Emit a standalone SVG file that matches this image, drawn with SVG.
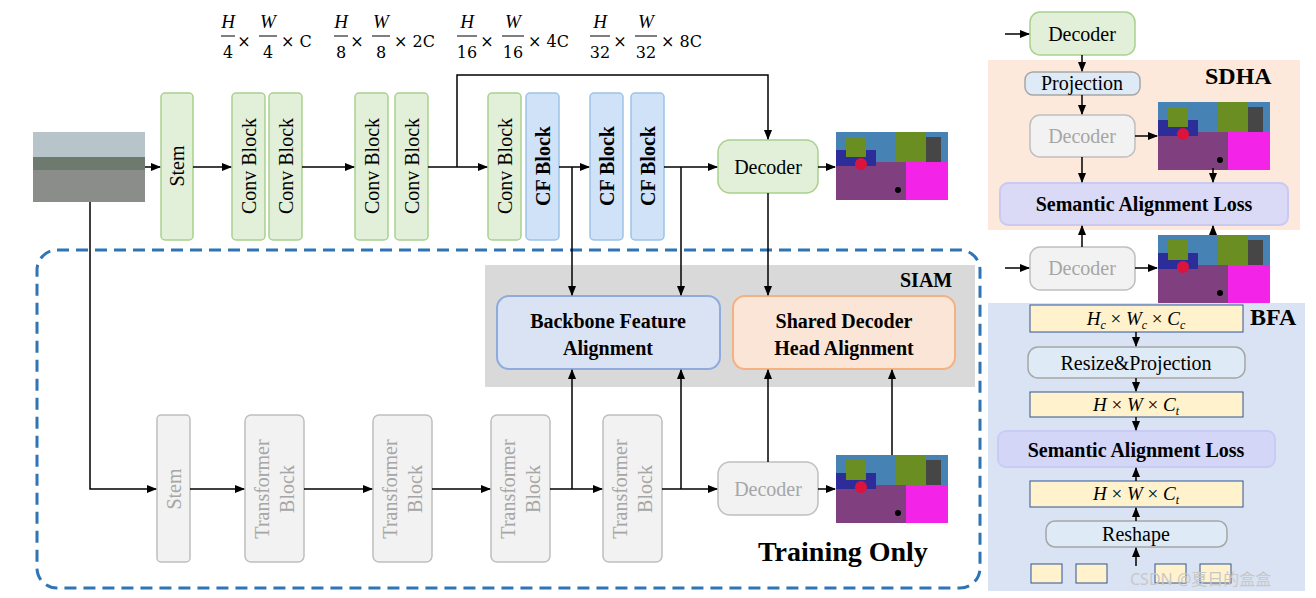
<svg xmlns="http://www.w3.org/2000/svg" width="1316" height="598" viewBox="0 0 1316 598">
<defs>
<marker id="ar" viewBox="0 0 10 10" refX="9" refY="5" markerWidth="7" markerHeight="7" orient="auto"><path d="M0,1 L10,5 L0,9 z" fill="#000"/></marker>
<style>
.g{fill:#e2f0d9;stroke:#a9d18e;stroke-width:1.5}
.b{fill:#cfe2f8;stroke:#9dc3e6;stroke-width:1.5}
.gr{fill:#f2f2f2;stroke:#bfbfbf;stroke-width:1.5}
.t{font-family:"Liberation Serif",serif;font-size:20px}
.tb{font-family:"Liberation Serif",serif;font-size:20px;font-weight:bold}
.tg{font-family:"Liberation Serif",serif;font-size:20px;fill:#a6a6a6}
.m{font-family:"DejaVu Serif",serif;font-size:16px}
.mi{font-family:"Liberation Serif",serif;font-size:19px;font-style:italic}
.c line,.c path{stroke:#000;stroke-width:1.5;fill:none;marker-end:url(#ar)}
.y{fill:#fff2cc;stroke:#2f5597;stroke-width:1}
.p{fill:#deebf7;stroke:#a6a6a6;stroke-width:1.5}
</style>
<g id="seg">
<rect width="112" height="68" fill="#4682b4"/>
<rect y="30" width="112" height="38" fill="#804080"/>
<rect x="70" y="30" width="42" height="38" fill="#f423e8"/>
<rect x="0" y="18" width="40" height="16" fill="#2d2d9a"/>
<rect x="10" y="5" width="20" height="20" fill="#6b8e23"/>
<rect x="60" y="0" width="30" height="30" fill="#6b8e23"/>
<rect x="90" y="5" width="15" height="25" fill="#464646"/>
<circle cx="25" cy="32" r="6" fill="#dc143c"/>
<circle cx="62" cy="58" r="3" fill="#000"/>
</g>
</defs>
<rect width="1316" height="598" fill="#fff"/>

<g id="dims">
<text class="mi" x="228" y="28" text-anchor="middle">H</text><line x1="221" y1="36" x2="235" y2="36" stroke="#000"/><text class="m" x="228" y="58" text-anchor="middle">4</text>
<text class="m" x="244" y="47" text-anchor="middle">×</text>
<text class="mi" x="268" y="28" text-anchor="middle">W</text><line x1="259" y1="36" x2="277" y2="36" stroke="#000"/><text class="m" x="268" y="58" text-anchor="middle">4</text>
<text class="m" x="281" y="47">× C</text>
<text class="mi" x="341" y="28" text-anchor="middle">H</text><line x1="334" y1="36" x2="348" y2="36" stroke="#000"/><text class="m" x="341" y="58" text-anchor="middle">8</text>
<text class="m" x="357" y="47" text-anchor="middle">×</text>
<text class="mi" x="381" y="28" text-anchor="middle">W</text><line x1="372" y1="36" x2="390" y2="36" stroke="#000"/><text class="m" x="381" y="58" text-anchor="middle">8</text>
<text class="m" x="394" y="47">× 2C</text>
<text class="mi" x="467" y="28" text-anchor="middle">H</text><line x1="457" y1="36" x2="477" y2="36" stroke="#000"/><text class="m" x="467" y="58" text-anchor="middle">16</text>
<text class="m" x="487" y="47" text-anchor="middle">×</text>
<text class="mi" x="513" y="28" text-anchor="middle">W</text><line x1="502" y1="36" x2="524" y2="36" stroke="#000"/><text class="m" x="513" y="58" text-anchor="middle">16</text>
<text class="m" x="528" y="47">× 4C</text>
<text class="mi" x="600" y="28" text-anchor="middle">H</text><line x1="590" y1="36" x2="610" y2="36" stroke="#000"/><text class="m" x="600" y="58" text-anchor="middle">32</text>
<text class="m" x="620" y="47" text-anchor="middle">×</text>
<text class="mi" x="646" y="28" text-anchor="middle">W</text><line x1="635" y1="36" x2="657" y2="36" stroke="#000"/><text class="m" x="646" y="58" text-anchor="middle">32</text>
<text class="m" x="661" y="47">× 8C</text>
</g>

<g id="siam-bg"><rect x="485" y="265" width="490" height="122" fill="#d9d9d9"/><text class="tb" x="900" y="287" font-size="26">SIAM</text></g>
<rect id="training" x="37" y="250" width="943" height="338" rx="20" fill="none" stroke="#2e75b6" stroke-width="3" stroke-dasharray="12,7"/>
<text x="758" y="561" font-family="Liberation Serif,serif" font-size="28" font-weight="bold">Training Only</text>

<g id="input"><rect x="33" y="132" width="112" height="70" fill="#6f7a6e"/><rect x="33" y="170" width="112" height="32" fill="#8a8d8a"/><rect x="33" y="132" width="112" height="25" fill="#b7c4c9"/></g>

<g id="nodes-top">
<g id="stem"><rect class="g" x="161" y="93" width="32" height="147" rx="4"/><text class="t" transform="translate(184,166) rotate(-90)" text-anchor="middle">Stem</text></g>
<g id="cb1"><rect class="g" x="232" y="93" width="33" height="147" rx="4"/><text class="t" transform="translate(256,166) rotate(-90)" text-anchor="middle">Conv Block</text></g>
<g id="cb2"><rect class="g" x="269" y="93" width="33" height="147" rx="4"/><text class="t" transform="translate(293,166) rotate(-90)" text-anchor="middle">Conv Block</text></g>
<g id="cb3"><rect class="g" x="355" y="93" width="33" height="147" rx="4"/><text class="t" transform="translate(379,166) rotate(-90)" text-anchor="middle">Conv Block</text></g>
<g id="cb4"><rect class="g" x="395" y="93" width="33" height="147" rx="4"/><text class="t" transform="translate(419,166) rotate(-90)" text-anchor="middle">Conv Block</text></g>
<g id="cb5"><rect class="g" x="488" y="93" width="33" height="147" rx="4"/><text class="t" transform="translate(512,166) rotate(-90)" text-anchor="middle">Conv Block</text></g>
<g id="cf1"><rect class="b" x="526" y="93" width="33" height="147" rx="4"/><text class="tb" transform="translate(550,166) rotate(-90)" text-anchor="middle">CF Block</text></g>
<g id="cf2"><rect class="b" x="590" y="93" width="33" height="147" rx="4"/><text class="tb" transform="translate(614,166) rotate(-90)" text-anchor="middle">CF Block</text></g>
<g id="cf3"><rect class="b" x="631" y="93" width="33" height="147" rx="4"/><text class="tb" transform="translate(655,166) rotate(-90)" text-anchor="middle">CF Block</text></g>
<g id="dec1"><rect class="g" x="718" y="140" width="100" height="53" rx="12"/><text class="t" x="768" y="174" text-anchor="middle">Decoder</text></g>
<use href="#seg" x="836" y="132"/>
</g>

<g id="align">
<g id="bfa-node"><rect x="497" y="296" width="223" height="73" rx="12" fill="#dae3f3" stroke="#8faadc" stroke-width="2"/><text class="tb" x="608" y="328" text-anchor="middle">Backbone Feature</text><text class="tb" x="608" y="355" text-anchor="middle">Alignment</text></g>
<g id="sdha-node"><rect x="733" y="296" width="222" height="73" rx="12" fill="#fbe5d6" stroke="#f4b183" stroke-width="2"/><text class="tb" x="844" y="328" text-anchor="middle">Shared Decoder</text><text class="tb" x="844" y="355" text-anchor="middle">Head Alignment</text></g>
</g>

<g id="nodes-bottom">
<g id="stem2"><rect class="gr" x="157" y="415" width="33" height="147" rx="4"/><text class="tg" transform="translate(181,489) rotate(-90)" text-anchor="middle">Stem</text></g>
<g id="tb1"><rect class="gr" x="245" y="415" width="59" height="147" rx="6"/><text class="tg" transform="translate(269,489) rotate(-90)" text-anchor="middle">Transformer</text><text class="tg" transform="translate(294,489) rotate(-90)" text-anchor="middle">Block</text></g>
<g id="tb2"><rect class="gr" x="373" y="415" width="59" height="147" rx="6"/><text class="tg" transform="translate(397,489) rotate(-90)" text-anchor="middle">Transformer</text><text class="tg" transform="translate(422,489) rotate(-90)" text-anchor="middle">Block</text></g>
<g id="tb3"><rect class="gr" x="491" y="415" width="59" height="147" rx="6"/><text class="tg" transform="translate(515,489) rotate(-90)" text-anchor="middle">Transformer</text><text class="tg" transform="translate(540,489) rotate(-90)" text-anchor="middle">Block</text></g>
<g id="tb4"><rect class="gr" x="603" y="415" width="59" height="147" rx="6"/><text class="tg" transform="translate(627,489) rotate(-90)" text-anchor="middle">Transformer</text><text class="tg" transform="translate(652,489) rotate(-90)" text-anchor="middle">Block</text></g>
<g id="dec2"><rect class="gr" x="718" y="462" width="100" height="53" rx="12"/><text class="tg" x="768" y="496" text-anchor="middle">Decoder</text></g>
<use href="#seg" x="836" y="455"/>
</g>

<g id="connectors" class="c">
<line x1="145" y1="167" x2="160" y2="167"/>
<line x1="193" y1="167" x2="231" y2="167"/>
<line x1="302" y1="167" x2="354" y2="167"/>
<line x1="428" y1="167" x2="487" y2="167"/>
<line x1="559" y1="167" x2="589" y2="167"/>
<line x1="664" y1="167" x2="717" y2="167"/>
<line x1="818" y1="167" x2="835" y2="167"/>
<path d="M457,167 V75 H768 V139"/>
<line x1="572" y1="167" x2="572" y2="295"/>
<line x1="681" y1="167" x2="681" y2="295"/>
<line x1="768" y1="193" x2="768" y2="295"/>
<path d="M90,202 V489 H156"/>
<line x1="190" y1="489" x2="244" y2="489"/>
<line x1="304" y1="489" x2="372" y2="489"/>
<line x1="432" y1="489" x2="490" y2="489"/>
<line x1="550" y1="489" x2="602" y2="489"/>
<line x1="662" y1="489" x2="717" y2="489"/>
<line x1="818" y1="489" x2="835" y2="489"/>
<line x1="572" y1="489" x2="572" y2="370"/>
<line x1="681" y1="489" x2="681" y2="370"/>
<line x1="768" y1="462" x2="768" y2="370"/>
<line x1="892" y1="455" x2="892" y2="370"/>
</g>

<g id="sdha-panel">
<rect x="988" y="60" width="312" height="170" fill="#fce9dc"/>
<text x="1205" y="84" font-family="Liberation Serif,serif" font-size="24" font-weight="bold">SDHA</text>
<g id="sd-dec0"><rect class="g" x="1030" y="12" width="105" height="43" rx="10"/><text class="t" x="1082" y="41" text-anchor="middle">Decoder</text></g>
<g id="sd-proj"><rect class="p" x="1025" y="72" width="115" height="23" rx="8"/><text class="t" x="1082" y="90" text-anchor="middle">Projection</text></g>
<g id="sd-dec1"><rect class="gr" x="1030" y="115" width="105" height="42" rx="10"/><text class="tg" x="1082" y="143" text-anchor="middle">Decoder</text></g>
<use href="#seg" x="1158" y="102"/>
<g id="sd-sal"><rect x="1000" y="183" width="288" height="42" rx="8" fill="#dadaf7" stroke="#c9c9f2" stroke-width="2"/><text class="tb" x="1144" y="211" text-anchor="middle">Semantic Alignment Loss</text></g>
<g id="sd-dec2"><rect class="gr" x="1030" y="247" width="105" height="43" rx="10"/><text class="tg" x="1082" y="275" text-anchor="middle">Decoder</text></g>
<use href="#seg" x="1158" y="235"/>
</g>

<g id="bfa-panel">
<rect x="988" y="303" width="317" height="288" fill="#dae3f3"/>
<text x="1250" y="325" font-family="Liberation Serif,serif" font-size="24" font-weight="bold">BFA</text>
<g id="bf-hc"><rect class="y" x="1030" y="305" width="213" height="27"/><text class="mi" x="1136" y="325" text-anchor="middle" font-size="18">H<tspan font-size="12" dy="4">c</tspan><tspan dy="-4" font-style="normal"> × </tspan>W<tspan font-size="12" dy="4">c</tspan><tspan dy="-4" font-style="normal"> × </tspan>C<tspan font-size="12" dy="4">c</tspan></text></g>
<g id="bf-rp"><rect class="p" x="1028" y="347" width="217" height="31" rx="10"/><text class="t" x="1136" y="370" text-anchor="middle" font-size="18">Resize&amp;Projection</text></g>
<g id="bf-h1"><rect class="y" x="1030" y="392" width="213" height="25"/><text class="mi" x="1136" y="411" text-anchor="middle" font-size="18">H<tspan font-style="normal"> × </tspan>W<tspan font-style="normal"> × </tspan>C<tspan font-size="12" dy="4">t</tspan></text></g>
<g id="bf-sal"><rect x="998" y="431" width="277" height="36" rx="8" fill="#d4d6f8" stroke="#c9cbf5" stroke-width="2"/><text class="tb" x="1136" y="457" text-anchor="middle">Semantic Alignment Loss</text></g>
<g id="bf-h2"><rect class="y" x="1030" y="481" width="213" height="26"/><text class="mi" x="1136" y="500" text-anchor="middle" font-size="18">H<tspan font-style="normal"> × </tspan>W<tspan font-style="normal"> × </tspan>C<tspan font-size="12" dy="4">t</tspan></text></g>
<g id="bf-rs"><rect class="p" x="1046" y="521" width="181" height="26" rx="9"/><text class="t" x="1136" y="541" text-anchor="middle" font-size="18">Reshape</text></g>
<rect class="y" x="1031" y="564" width="31" height="19"/><rect class="y" x="1076" y="564" width="31" height="19"/><rect class="y" x="1155" y="564" width="31" height="19"/><rect class="y" x="1200" y="564" width="31" height="19"/>
<text x="1130" y="585" font-family="Noto Sans,Noto Sans CJK SC,sans-serif" font-size="16" fill="#c8c8c8">CSDN @夏日的盒盒</text>
</g>

<g id="panel-connectors" class="c">
<line x1="1005" y1="34" x2="1029" y2="34"/>
<line x1="1082" y1="55" x2="1082" y2="71"/>
<line x1="1082" y1="95" x2="1082" y2="114"/>
<line x1="1082" y1="157" x2="1082" y2="182"/>
<line x1="1135" y1="136" x2="1157" y2="136"/>
<line x1="1213" y1="168" x2="1213" y2="182"/>
<line x1="1005" y1="268" x2="1029" y2="268"/>
<line x1="1135" y1="268" x2="1157" y2="268"/>
<line x1="1082" y1="247" x2="1082" y2="226"/>
<line x1="1213" y1="235" x2="1213" y2="226"/>
<line x1="1136" y1="332" x2="1136" y2="346"/>
<line x1="1136" y1="378" x2="1136" y2="391"/>
<line x1="1136" y1="417" x2="1136" y2="430"/>
<line x1="1136" y1="481" x2="1136" y2="468"/>
<line x1="1136" y1="521" x2="1136" y2="508"/>
<line x1="1136" y1="566" x2="1136" y2="548"/>
</g>
</svg>
